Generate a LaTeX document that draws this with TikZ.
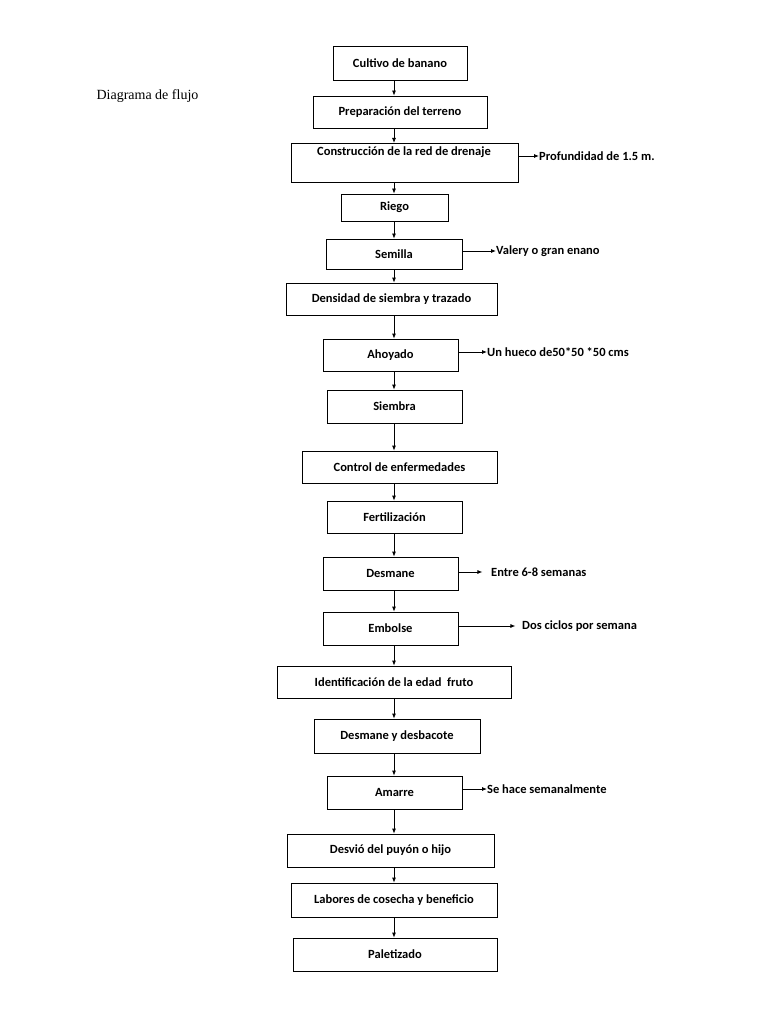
\documentclass[tikz,border=0pt]{standalone}
\usepackage{fontspec}
\setmainfont{Carlito}
\newfontfamily\serif{Liberation Serif}
\usetikzlibrary{arrows.meta}
\begin{document}
\begin{tikzpicture}[x=1pt,y=-1pt,
  box/.style={draw,line width=0.8pt,inner sep=0pt,font=\bfseries\fontsize{12.5}{14}\selectfont},
  side/.style={anchor=west,inner sep=0pt,font=\bfseries\fontsize{12.5}{14}\selectfont},
  arr/.style={-{Latex[length=5pt,width=4pt]},line width=0.8pt}]
\useasboundingbox (0,0) rectangle (768,1024);
\node[anchor=west,font=\serif\fontsize{14}{16}\selectfont] (t) at (93,96) {Diagrama de flujo};
\coordinate (ax) at (394,0);
\newcommand\bx[6]{\node[box,minimum width=#4-#2,minimum height=#5-#3] (#1) at ({(#2+#4)/2},{(#3+#5)/2}) {#6};}
\bx{b1}{333}{46}{467}{80}{Cultivo de banano}
\bx{b2}{313}{96}{487}{128}{Preparación del terreno}
\node[box,minimum width=227,minimum height=39,anchor=north west,align=center,text height=10pt] (b3) at (291,143) {};
\node[side,anchor=north] (b3t) at (404,147) {Construcción de la red de drenaje};
\bx{b4}{341}{194}{448}{221}{Riego}
\bx{b5}{326}{239}{462}{269}{Semilla}
\bx{b6}{286}{283}{497}{315}{Densidad de siembra y trazado}
\bx{b7}{323}{339}{458}{371}{Ahoyado}
\bx{b8}{327}{390}{462}{423}{Siembra}
\bx{b9}{302}{451}{497}{483}{Control de enfermedades}
\bx{b10}{327}{501}{462}{533}{Fertilización}
\bx{b11}{323}{557}{458}{590}{Desmane}
\bx{b12}{323}{612}{458}{645}{Embolse}
\bx{b13}{277}{666}{511}{698}{Identificación de la edad\ \ fruto}
\bx{b14}{314}{719}{480}{753}{Desmane y desbacote}
\bx{b15}{327}{776}{462}{809}{Amarre}
\bx{b16}{287}{834}{494}{867}{Desvió del puyón o hijo}
\bx{b17}{291}{883}{497}{917}{Labores de cosecha y beneficio}
\bx{b18}{293}{938}{497}{971}{Paletizado}
\foreach \a/\b in {b1/b2,b2/b3,b3/b4,b4/b5,b5/b6,b6/b7,b7/b8,b8/b9,b9/b10,b10/b11,b11/b12,b12/b13,b13/b14,b14/b15,b15/b16,b16/b17,b17/b18}
  \draw[arr] (\a.south -| ax) -- (\b.north -| ax);
\node[side] (s3) at (539,156) {Profundidad de 1.5 m.};
\node[side] (s5) at (496,251) {Valery o gran enano};
\node[side] (s7) at (487,352) {Un hueco de50*50 *50 cms};
\node[side] (s11) at (491,572) {Entre 6-8 semanas};
\node[side] (s12) at (522,626) {Dos ciclos por semana};
\node[side] (s15) at (487,789) {Se hace semanalmente};
\draw[arr] (b3.east |- s3) -- (s3.west);
\draw[arr] (b5.east |- s5) -- (s5.west);
\draw[arr] (b7.east |- s7) -- (s7.west);
\draw[arr] (b11.east |- s11) -- ++(24,0);
\draw[arr] (b12.east |- s12) -- ++(57,0);
\draw[arr] (b15.east |- s15) -- (s15.west);
\end{tikzpicture}
\end{document}
